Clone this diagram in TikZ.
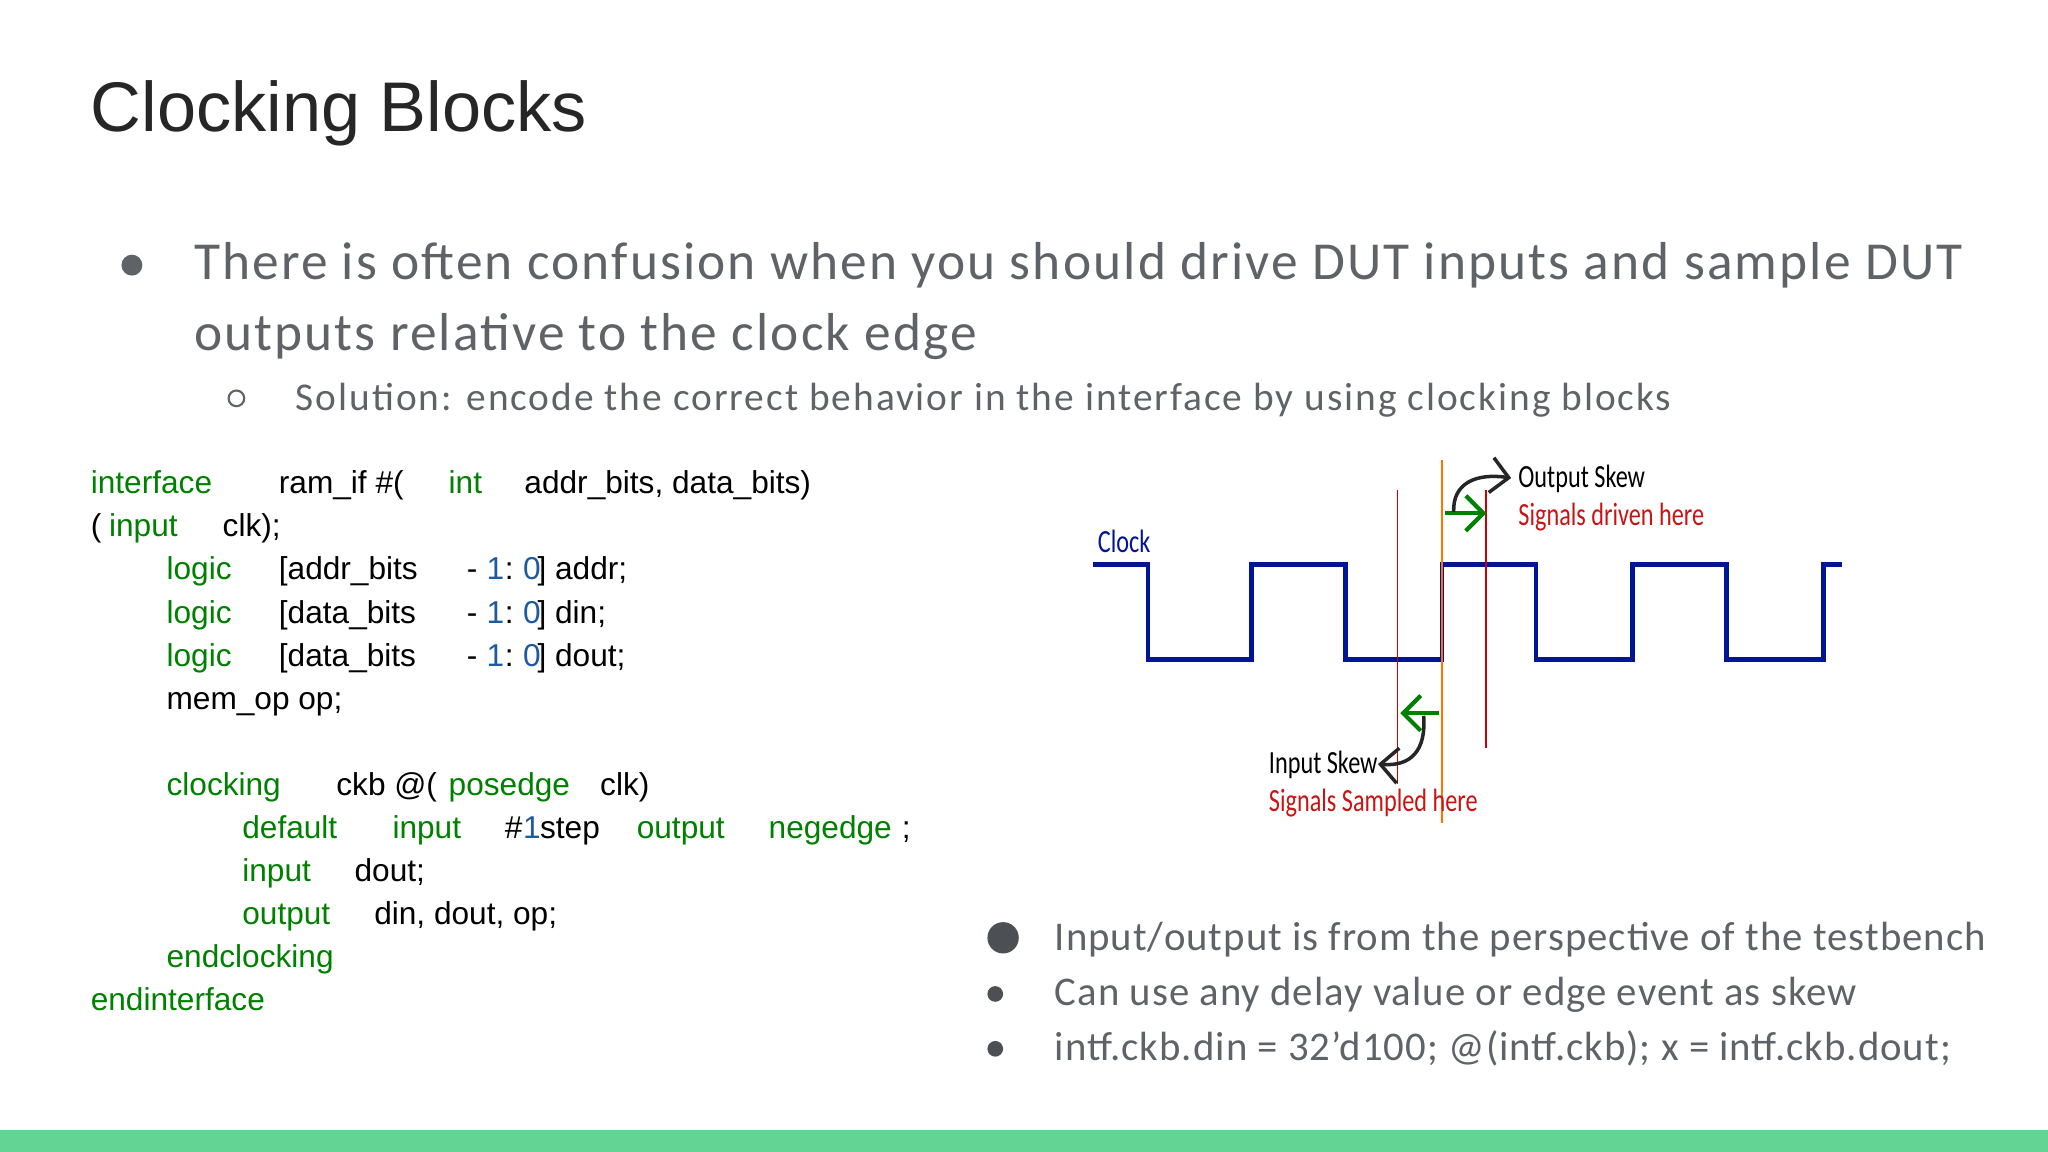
\documentclass[tikz,border=0pt]{standalone}
\usepackage{fontspec}
\setmainfont{Liberation Sans}
\newfontfamily\carl{Carlito}
\newfontfamily\carlsp[LetterSpace=4]{Carlito}
\newfontfamily\carlsub[LetterSpace=5]{Carlito}
\newfontfamily\carlbot[LetterSpace=2.5]{Carlito}
\newfontfamily\carlnar[FakeStretch=0.75]{Carlito}
\usetikzlibrary{arrows.meta}
\definecolor{kw}{RGB}{0,128,0}
\definecolor{num}{RGB}{30,90,160}
\definecolor{gtxt}{RGB}{95,99,104}
\definecolor{clk}{RGB}{0,20,150}
\definecolor{bar}{RGB}{99,212,148}
\definecolor{sred}{RGB}{200,20,20}
\begin{document}
\begin{tikzpicture}[x=0.013061cm,y=-0.013061cm,
  c/.style={anchor=base west,inner sep=0,font=\fontsize{9}{11}\selectfont},
  k/.style={c,text=kw},
  n/.style={c,text=num},
  hand/.style={anchor=base west,inner sep=0,font=\carlnar\fontsize{9.2}{10}\selectfont},
  vline/.style={draw=red!80!black,line width=0.5pt}]
\useasboundingbox (0,0) rectangle (1568,882);
\fill[bar] (0,865) rectangle (1568,882);
\node[anchor=base west,inner sep=0,font=\fontsize{20}{24}\selectfont,text=black!85] (title) at (69,101) {Clocking Blocks};
% top bullets
\fill[gtxt] (101,203) circle (8);
\node[anchor=base west,inner sep=0,font=\carlsp\fontsize{15.2}{20}\selectfont,text=gtxt] (b1) at (148,214) {There is often confusion when you should drive DUT inputs and sample DUT};
\node[anchor=base west,inner sep=0,font=\carlsp\fontsize{15.2}{20}\selectfont,text=gtxt] (b1b) at (148,268) {outputs relative to the clock edge};
\draw[gtxt,line width=0.6pt] (181,305) circle (6);
\node[anchor=base west,inner sep=0,font=\carlsub\fontsize{11.2}{14}\selectfont,text=gtxt] (b2) at (226,314) {Solution: encode the correct behavior in the interface by using clocking blocks};
% code
\node[k] (c1a) at (69,378) {interface}; \node[c] (c1b) at (213,378) {ram\_if \#(}; \node[k] (c1c) at (343,378) {int}; \node[c] (c1d) at (401,378) {addr\_bits, data\_bits)};
\node[c] (c2a) at (69,411) {(}; \node[k] (c2b) at (83,411) {input}; \node[c] (c2c) at (170,411) {clk);};
\foreach \y/\nm/\w in {444/a/addr\_bits, 477/b/data\_bits, 510/c/data\_bits}{
  \node[k] (l\nm) at (127,\y) {logic}; \node[c] (m\nm) at (213,\y) {[\w};
  \node[c] (d\nm) at (357,\y) {-}; \node[n] (o\nm) at (372,\y) {1};
  \node[c] (p\nm) at (386,\y) {:}; \node[n] (z\nm) at (400,\y) {0};}
\node[c] (ra) at (411,444) {] addr;}; \node[c] (rb) at (411,477) {] din;}; \node[c] (rc) at (411,510) {] dout;};
\node[c] (mem) at (127,543) {mem\_op op;};
\node[k] (clkg) at (127,609) {clocking}; \node[c] (ckb) at (257,609) {ckb @(}; \node[k] (pe) at (343,609) {posedge}; \node[c] (ck2) at (459,609) {clk)};
\node[k] (df) at (185,642) {default}; \node[k] (in1) at (300,642) {input}; \node[c] (h1) at (386,642) {\#}; \node[n] (h2) at (400,642) {1}; \node[c] (h3) at (413,642) {step}; \node[k] (out1) at (487,642) {output}; \node[k] (ne) at (588,642) {negedge}; \node[c] (sc) at (690,642) {;};
\node[k] (in2) at (185,675) {input}; \node[c] (dd) at (271,675) {dout;};
\node[k] (out2) at (185,708) {output}; \node[c] (ddo) at (286,708) {din, dout, op;};
\node[k] (ec) at (127,741) {endclocking};
\node[k] (ei) at (69,774) {endinterface};
% waveform
\draw[clk,line width=1.3pt] (837,432) -| (879,505) -| (958,432) -| (1030,505) -| (1104,432) -| (1176,505) -| (1250,432) -| (1322,505) -| (1396,432) -- (1410,432);
\draw[vline] (1070,375) -- (1070,600);
\draw[vline] (1138,375) -- (1138,573);
\draw[draw=orange!90!red,line width=0.6pt] (1104,352) -- (1104,630);
\coordinate (ga) at (1106,393); \coordinate (gb) at (1138,393);
\draw[green!50!black,line width=1.2pt,-{Straight Barb[length=5pt]}] (ga) -- (gb);
\coordinate (gc) at (1102,546); \coordinate (gd) at (1072,546);
\draw[green!50!black,line width=1.2pt,-{Straight Barb[length=5pt]}] (gc) -- (gd);
\node[hand,text=clk] (clock) at (840,423) {Clock};
\node[hand] (os) at (1162,373) {Output Skew};
\node[hand,text=sred] (sd) at (1162,402) {Signals driven here};
\node[hand] (is) at (971,592) {Input Skew};
\node[hand,text=sred] (ss) at (971,621) {Signals Sampled here};
\coordinate (oa) at (1113,392); \coordinate (ob) at (1157,366);
\coordinate (ia) at (1090,548); \coordinate (ib) at (1055,585);
\draw[black!85,line width=1pt,-{Straight Barb[length=5pt]}] (oa) .. controls (1112,370) and (1130,362) .. (ob);
\draw[black!85,line width=1pt,-{Straight Barb[length=5pt]}] (ia) .. controls (1092,575) and (1080,587) .. (ib);
% bottom bullets
\fill[gtxt!80!black] (768,718) circle (12);
\fill[gtxt!80!black] (762,761) circle (6);
\fill[gtxt!80!black] (762,803) circle (6);
\foreach \y/\t/\nm in {728/{Input/output is from the perspective of the testbench}/r1, 770/{Can use any delay value or edge event as skew}/r2, 812/{intf.ckb.din = 32’d100; @(intf.ckb); x = intf.ckb.dout;}/r3}
  \node[anchor=base west,inner sep=0,font=\carlbot\fontsize{11.6}{14}\selectfont,text=gtxt] (\nm) at (807,\y) {\t};
\end{tikzpicture}
\end{document}
